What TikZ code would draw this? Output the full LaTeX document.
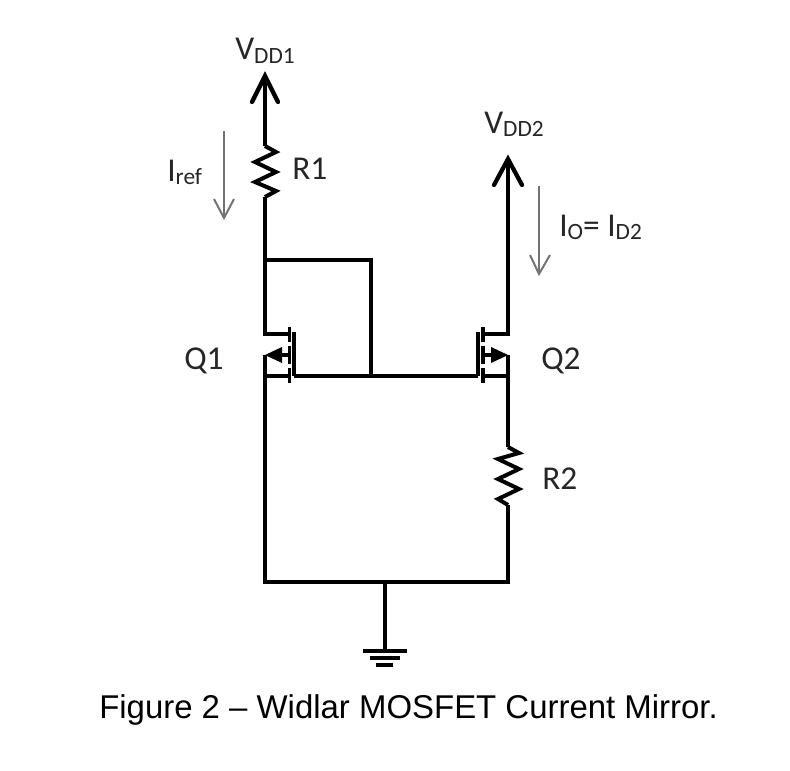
\documentclass[tikz,border=0pt]{standalone}
\usepackage{fontspec}
\setmainfont{Carlito}
\newfontfamily\capfont{Liberation Sans}
\definecolor{lbl}{gray}{0.15}
\tikzset{
  x=0.75pt,y=-0.75pt,
  wire/.style={line width=3pt,black,line join=miter},
  thin wire/.style={line width=2.5pt,black},
  vhead/.style={line width=3.2pt,black,line cap=round,line join=miter},
  curarrow/.style={line width=1.5pt,black!55},
  lab/.style={inner sep=0pt,text=lbl,font=\fontsize{25}{25}\selectfont,anchor=base west},
  gnd/.style={line width=3.2pt,black},
}
\newcommand{\sbs}[1]{\raisebox{-2.8pt}{\fontsize{17.5}{18}\selectfont #1}}
\begin{document}
\begin{tikzpicture}
\useasboundingbox (0,0) rectangle (790,771);
\fill[white] (0,0) rectangle (790,771);
% key points
\coordinate (vdd1) at (265,76);
\coordinate (r1t) at (265,146);
\coordinate (r1b) at (265,197);
\coordinate (ljun) at (265,260);
\coordinate (ld) at (265,334);
\coordinate (lsm) at (265,355);
\coordinate (ls) at (265,376);
\coordinate (lb) at (265,582);
\coordinate (vdd2) at (508,159);
\coordinate (rd) at (508,334);
\coordinate (rsm) at (508,355);
\coordinate (rs) at (508,376);
\coordinate (r2t) at (508,447);
\coordinate (r2b) at (508,505);
\coordinate (rb) at (508,582);
\coordinate (gtop) at (371,260);
\coordinate (gmid) at (371,376);
\coordinate (lgb) at (294,376);
\coordinate (rgb) at (478,376);
\coordinate (gndt) at (385,582);
\coordinate (gndb) at (385,651);
% supply and rails
\draw[wire] (vdd1) -- (r1t);
\draw[wire] (r1t) -- (276,152) -- (255,162) -- (276,172) -- (255,182) -- (276,191) -- (r1b);
\draw[wire] (r1b) -- (ljun) -- (ld) -- (289,334);
\draw[wire] (ljun) -- (gtop) -- (gmid);
\draw[wire] (lsm) -- (lb) -- (rb) -- (r2b);
\draw[wire] (r2b) -- (498,499) -- (519,489) -- (498,479) -- (519,469) -- (498,459) -- (519,453) -- (r2t);
\draw[wire] (r2t) -- (rsm);
\draw[wire] (vdd2) -- (rd) -- (483,334);
\draw[wire] (ls) -- (289,376);
\draw[wire] (rs) -- (483,376);
\draw[wire] (lgb) -- (rgb);
% supply arrow heads
\draw[vhead] (252,102) -- (vdd1) -- (278,102);
\draw[vhead] (494,185) -- (vdd2) -- (522,185);
% Q1
\draw[wire] (294,332) -- (lgb);
\draw[thin wire] (289.5,327) -- (289.5,342);
\draw[thin wire] (289.5,346) -- (289.5,364);
\draw[thin wire] (289.5,368) -- (289.5,383);
\draw[line width=2.8pt] (289,355) -- (278,355);
\fill (lsm) -- (282,347) -- (282,363) -- cycle;
% Q2
\draw[wire] (478,332) -- (rgb);
\draw[thin wire] (483,327) -- (483,342);
\draw[thin wire] (483,346) -- (483,364);
\draw[thin wire] (483,368) -- (483,383);
\draw[line width=2.8pt] (483,355) -- (495,355);
\fill (rsm) -- (491,347) -- (491,363) -- cycle;
% ground
\draw[wire] (gndt) -- (gndb);
\draw[gnd] (363,651) -- (407,651);
\draw[gnd] (370,658) -- (400,658);
\draw[gnd] (376,665) -- (393,665);
% current arrows
\coordinate (irt) at (224,131);
\coordinate (irb) at (224,218);
\draw[curarrow] (irt) -- (irb);
\draw[curarrow] (214,199) -- (irb) -- (234,199);
\coordinate (iot) at (539,186);
\coordinate (iob) at (539,274);
\draw[curarrow] (iot) -- (iob);
\draw[curarrow] (530,255) -- (iob) -- (550,255);
% labels
\node[lab] (lvdd1) at (235,60) {V\sbs{DD1}};
\node[lab] (lvdd2) at (484,133) {V\sbs{DD2}};
\node[lab] (lr1) at (292,179) {R1};
\node[lab] (lr2) at (542,489) {R2};
\node[lab] (lq1) at (184,369) {Q1};
\node[lab] (lq2) at (541,369) {Q2};
\node[lab] (liref) at (167,181) {I\sbs{ref}};
\node[lab] (lio) at (559,236) {I\sbs{O}= I\sbs{D2}};
\node[inner sep=0pt,anchor=base west,font=\capfont\fontsize{24.7}{25}\selectfont] (cap) at (99,718) {Figure 2 – Widlar MOSFET Current Mirror.};
\end{tikzpicture}
\end{document}
